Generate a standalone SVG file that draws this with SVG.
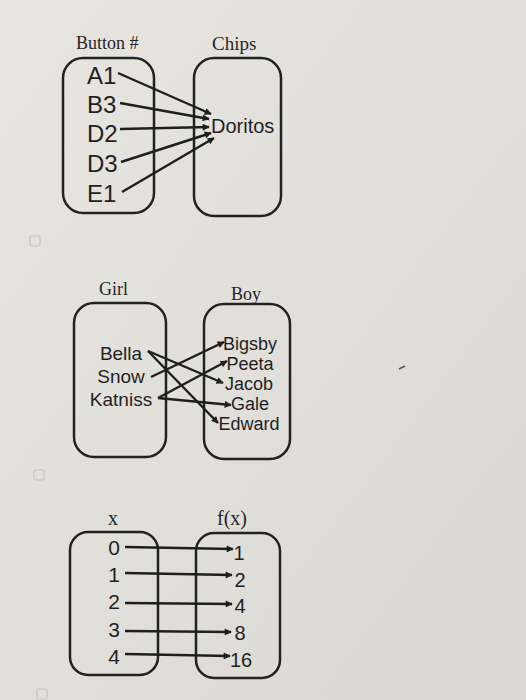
<svg xmlns="http://www.w3.org/2000/svg" width="526" height="700" viewBox="0 0 526 700">
<defs>
<linearGradient id="bg" x1="0" y1="0" x2="1" y2="1">
<stop offset="0" stop-color="#e7e5e0"/>
<stop offset="0.5" stop-color="#e1dfd9"/>
<stop offset="1" stop-color="#dad8d2"/>
</linearGradient>
<marker id="ah" viewBox="0 0 10 10" refX="9" refY="5" markerWidth="8" markerHeight="7" markerUnits="userSpaceOnUse" orient="auto">
<path d="M0,0 L10,5 L0,10 z" fill="#1e1e1e"/>
</marker>
</defs>
<style>
.box{fill:none;stroke:#222;stroke-width:2.5}
.t{font-family:"Liberation Sans",Arial,sans-serif;fill:#1f1f1f}
.h{font-family:"Liberation Serif","Times New Roman",serif;fill:#262626}
.c{stroke:#1e1e1e;stroke-width:2.4;fill:none;marker-end:url(#ah)}
.cb{fill:none;stroke:#c3c3c6;stroke-width:1.2}
</style>
<rect width="526" height="700" fill="url(#bg)"/>
<rect class="cb" x="30" y="236" width="10" height="10" rx="1.5"/>
<rect class="cb" x="34" y="470" width="10" height="10" rx="1.5"/>
<rect class="cb" x="37" y="689" width="10" height="10" rx="1.5"/>
<path d="M399,369 L405,366" stroke="#555" stroke-width="1.5"/>

<!-- Diagram 1 -->
<g id="button-set">
<text class="h" x="76" y="49" font-size="18">Button #</text>
<rect class="box" x="63" y="58" width="91" height="155" rx="20"/>
<text class="t" x="87" y="84" font-size="24">A1</text>
<text class="t" x="87" y="113" font-size="24">B3</text>
<text class="t" x="87" y="142" font-size="24">D2</text>
<text class="t" x="87" y="172" font-size="24">D3</text>
<text class="t" x="87" y="202" font-size="24">E1</text>
</g>
<g id="chips-set">
<text class="h" x="212" y="50" font-size="19">Chips</text>
<rect class="box" x="194" y="58" width="87" height="158" rx="20"/>
<text class="t" x="211" y="133" font-size="20">Doritos</text>
</g>

<!-- Diagram 2 -->
<g id="girl-set">
<text class="h" x="99" y="295" font-size="18">Girl</text>
<rect class="box" x="74" y="303" width="92" height="154" rx="20"/>
<text class="t" x="121" y="360" font-size="19" text-anchor="middle">Bella</text>
<text class="t" x="121" y="383" font-size="19" text-anchor="middle">Snow</text>
<text class="t" x="121" y="406" font-size="19" text-anchor="middle">Katniss</text>
</g>
<g id="boy-set">
<text class="h" x="231" y="300" font-size="18">Boy</text>
<rect class="box" x="204" y="304" width="86" height="155" rx="20"/>
<text class="t" x="250" y="350" font-size="18" text-anchor="middle">Bigsby</text>
<text class="t" x="250" y="370" font-size="18" text-anchor="middle">Peeta</text>
<text class="t" x="249" y="390" font-size="18" text-anchor="middle">Jacob</text>
<text class="t" x="250" y="410" font-size="18" text-anchor="middle">Gale</text>
<text class="t" x="249" y="430" font-size="18" text-anchor="middle">Edward</text>
</g>

<!-- Diagram 3 -->
<g id="x-set">
<text class="h" x="108" y="525" font-size="20">x</text>
<rect class="box" x="70" y="532" width="88" height="143" rx="18"/>
<text class="t" x="114" y="555" font-size="21" text-anchor="middle">0</text>
<text class="t" x="114" y="582" font-size="21" text-anchor="middle">1</text>
<text class="t" x="114" y="609" font-size="21" text-anchor="middle">2</text>
<text class="t" x="114" y="637" font-size="21" text-anchor="middle">3</text>
<text class="t" x="114" y="664" font-size="21" text-anchor="middle">4</text>
</g>
<g id="fx-set">
<text class="h" x="217" y="525" font-size="20">f(x)</text>
<rect class="box" x="196" y="533" width="84" height="145" rx="18"/>
<text class="t" x="239" y="560" font-size="20" text-anchor="middle">1</text>
<text class="t" x="240" y="587" font-size="20" text-anchor="middle">2</text>
<text class="t" x="240" y="613" font-size="20" text-anchor="middle">4</text>
<text class="t" x="240" y="640" font-size="20" text-anchor="middle">8</text>
<text class="t" x="241" y="667" font-size="20" text-anchor="middle">16</text>
</g>

<g id="connectors">
<path class="c" d="M118,73 L211,114"/>
<path class="c" d="M120,103 L209,119"/>
<path class="c" d="M120,129 L209,127"/>
<path class="c" d="M121,162 L211,133"/>
<path class="c" d="M122,192 L214,138"/>

<path class="c" d="M148,351 L223,383"/>
<path class="c" d="M148,351 L218,423"/>
<path class="c" d="M151,377 L224,342"/>
<path class="c" d="M158,398 L227,361"/>
<path class="c" d="M158,398 L231,405"/>

<path class="c" d="M125,547 L233,549"/>
<path class="c" d="M125,573 L232,575"/>
<path class="c" d="M125,603 L232,604"/>
<path class="c" d="M125,631 L231,632"/>
<path class="c" d="M125,654 L230,656"/>
</g>
</svg>
